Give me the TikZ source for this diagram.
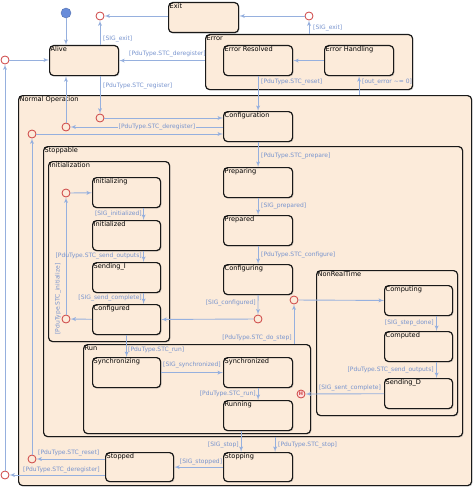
\documentclass[tikz,border=0pt]{standalone}
\usepackage{fontspec}
\setmainfont{DejaVu Sans}
\usetikzlibrary{shapes,arrows,shadows}
\definecolor{statefill}{RGB}{252,235,218}
\definecolor{wirecol}{RGB}{150,176,222}
\definecolor{guardcol}{RGB}{120,148,206}
\definecolor{juncol}{RGB}{204,64,64}
\definecolor{dotcol}{RGB}{104,140,218}
\tikzstyle{state} = [rectangle, draw=black!90, fill=statefill, rounded corners=4pt,
    line width=1.2pt, anchor=north west, inner sep=0pt,
    minimum width=69pt, minimum height=30pt,
    drop shadow={opacity=0.25, shadow xshift=1pt, shadow yshift=-1pt}]
\tikzstyle{statename} = [anchor=north west, inner sep=1.5pt, text=black,
    font=\fontsize{6.6}{7}\selectfont]
\tikzstyle{junction} = [circle, draw=juncol, line width=0.8pt, minimum size=8pt, inner sep=0pt]
\tikzstyle{initdot} = [circle, fill=dotcol, draw=dotcol!80!black, line width=0.4pt,
    minimum size=10pt, inner sep=0pt]
\tikzstyle{guard} = [text=guardcol, font=\fontsize{6}{6.5}\selectfont, inner sep=1pt]
\tikzstyle{line} = [draw=wirecol, line width=0.9pt, -latex']

\begin{document}
\begin{tikzpicture}[x=1pt, y=-1pt]
    \useasboundingbox (0,0) rectangle (474,487);
    % Place nodes
    \node [initdot] (start) at (66,13) {};
    \node [state, minimum width=70pt, label={[statename]north west:Exit}] (exit) at (168,2) {};
    \node [state, label={[statename]north west:Alive}] (alive) at (49,45) {};
    \node [state, minimum width=207pt, minimum height=55pt,
        label={[statename]north west:Error}] (error) at (205,34) {};
    \node [state, label={[statename]north west:Error Resolved}] (errres) at (223,45) {};
    \node [state, label={[statename]north west:Error Handling}] (errhand) at (324,45) {};
    \node [state, minimum width=453pt, minimum height=390pt,
        label={[statename]north west:Normal Operation}] (normal) at (18,95) {};
    \node [state, label={[statename]north west:Configuration}] (config) at (223,111) {};
    \node [state, minimum width=419pt, minimum height=290pt,
        label={[statename]north west:Stoppable}] (stoppable) at (43,146) {};
    \node [state, minimum width=121pt, minimum height=180pt,
        label={[statename]north west:Initialization}] (initialization) at (48,161) {};
    \node [state, minimum width=68pt, label={[statename]north west:Initializing}] (initing) at (92,177) {};
    \node [state, minimum width=68pt, label={[statename]north west:Initialized}] (inited) at (92,220) {};
    \node [state, minimum width=68pt, label={[statename]north west:Sending\_I}] (sendi) at (92,262) {};
    \node [state, minimum width=68pt, label={[statename]north west:Configured}] (configd) at (92,304) {};
    \node [state, label={[statename]north west:Preparing}] (prep) at (223,167) {};
    \node [state, label={[statename]north west:Prepared}] (prepd) at (223,215) {};
    \node [state, label={[statename]north west:Configuring}] (cfging) at (223,264) {};
    \node [state, minimum width=141pt, minimum height=145pt,
        label={[statename]north west:NonRealTime}] (nrt) at (316,270) {};
    \node [state, minimum width=68pt, label={[statename]north west:Computing}] (comp) at (384,285) {};
    \node [state, minimum width=68pt, label={[statename]north west:Computed}] (compd) at (384,331) {};
    \node [state, minimum width=68pt, label={[statename]north west:Sending\_D}] (sendd) at (384,378) {};
    \node [state, minimum width=227pt, minimum height=89pt,
        label={[statename]north west:Run}] (run) at (83,344) {};
    \node [state, minimum width=68pt, label={[statename]north west:Synchronizing}] (sync) at (92,357) {};
    \node [state, label={[statename]north west:Synchronized}] (synced) at (223,357) {};
    \node [state, label={[statename]north west:Running}] (running) at (223,400) {};
    \node [state, minimum height=29pt, label={[statename]north west:Stopping}] (stopping) at (223,452) {};
    \node [state, minimum width=68pt, minimum height=29pt,
        label={[statename]north west:Stopped}] (stopped) at (105,452) {};
    % Junctions
    \node [junction] (jexitl) at (100,16) {};
    \node [junction] (jexitr) at (309,16) {};
    \node [junction] (jleft) at (5,60) {};
    \node [junction] (jbot) at (5,475) {};
    \node [junction] (jreg) at (100,118) {};
    \node [junction] (jdereg) at (66,127) {};
    \node [junction] (jtop) at (32,134) {};
    \node [junction] (jstop) at (32,459) {};
    \node [junction] (jinit) at (66,193) {};
    \node [junction] (jcfgd) at (66,319) {};
    \node [junction] (jcfging) at (258,319) {};
    \node [junction] (jstep) at (294,300) {};
    \node [junction, fill=red!12, text=juncol, font=\bfseries\fontsize{5}{5}\selectfont] (hist) at (301,394) {H};
    % Draw edges
    \path [line] (start) -- (alive.north -| start);
    \path [line] (alive.north -| jexitl) -- (jexitl);
    \path [line] (exit.west |- jexitl) -- (jexitl);
    \path [line] (error.north -| jexitr) -- (jexitr);
    \path [line] (jexitr) -- (exit.east |- jexitr);
    \path [line] (jbot) -- (jleft);
    \path [line] (jleft) -- (alive.west |- jleft);
    \path [line] (error.west |- alive) -- (alive.east);
    \path [line] (errhand) -- (errres);
    \path [line] (errres) -- (config);
    \path [line] (normal.north -| errhand) -- (errhand);
    \path [line] (alive.south -| jreg) -- (jreg);
    \path [line] (jreg) -- (config.west |- jreg);
    \path [line] (config.west |- jdereg) -- (jdereg);
    \path [line] (jdereg) -- (alive.south -| jdereg);
    \path [line] (jstop) -- (jtop);
    \path [line] (jtop) -- (config.west |- jtop);
    \path [line] (config) -- (prep);
    \path [line] (prep) -- (prepd);
    \path [line] (prepd) -- (cfging);
    \path [line] (cfging) -- (jcfging);
    \path [line] (jcfging) -- (configd);
    \path [line] (run.north -| jstep) -- (jstep);
    \path [line] (jstep) -- (comp);
    \path [line] (jinit) -- (initing);
    \path [line] ([xshift=17pt]initing.south) -- ([xshift=17pt]inited.north);
    \path [line] ([xshift=17pt]inited.south) -- ([xshift=17pt]sendi.north);
    \path [line] ([xshift=17pt]sendi.south) -- ([xshift=17pt]configd.north);
    \path [line] (configd) -- (jcfgd);
    \path [line] (jcfgd) -- (jinit);
    \path [line] (configd) -- (sync);
    \path [line] (sync) -- (synced);
    \path [line] (synced) -- (running);
    \path [line] ([xshift=18pt]comp.south) -- ([xshift=18pt]compd.north);
    \path [line] ([xshift=18pt]compd.south) -- ([xshift=18pt]sendd.north);
    \path [line] (sendd) -- (hist);
    \path [line] ([xshift=-17pt]running.south) -- ([xshift=-17pt]stopping.north);
    \path [line] ([xshift=17pt]stopping.north |- stoppable.south) -- ([xshift=17pt]stopping.north);
    \path [line] (stopping) -- (stopped);
    \path [line] (stopped.west |- jstop) -- (jstop);
    \path [line] (stopped.west |- jbot) -- (jbot);
    % Guards
    \node [guard, anchor=west] (gexitl) at (102,39) {[SIG\_exit]};
    \node [guard, anchor=west] (gexitr) at (312,28) {[SIG\_exit]};
    \node [guard, anchor=west] (gderegtop) at (128,54) {[PduType.STC\_deregister]};
    \node [guard, anchor=west] (gresetup) at (260,82) {[PduType.STC\_reset]};
    \node [guard, anchor=west] (gouterr) at (361,82) {[out\_error \textasciitilde= 0]};
    \node [guard, anchor=west] (greg) at (102,86) {[PduType.STC\_register]};
    \node [guard, fill=statefill] (gderegmid) at (157,127) {[PduType.STC\_deregister]};
    \node [guard, anchor=west] (gprepare) at (260,156) {[PduType.STC\_prepare]};
    \node [guard, anchor=west] (gprepared) at (260,206) {[SIG\_prepared]};
    \node [guard, anchor=west] (gconfigure) at (260,255) {[PduType.STC\_configure]};
    \node [guard, anchor=east] (gconfigured) at (257,303) {[SIG\_configured]};
    \node [guard, anchor=east] (gdostep) at (293,338) {[PduType.STC\_do\_step]};
    \node [guard, anchor=east] (ginitialized) at (143,214) {[SIG\_initialized]};
    \node [guard, anchor=east] (gsendouti) at (143,256) {[PduType.STC\_send\_outputs]};
    \node [guard, anchor=east] (gsendcomp) at (143,298) {[SIG\_send\_complete]};
    \node [guard, rotate=90] (ginitialize) at (58,299) {[PduType.STC\_initialize]};
    \node [guard, anchor=west] (grunl) at (127,350) {[PduType.STC\_run]};
    \node [guard, anchor=west] (gsynced) at (162,365) {[SIG\_synchronized]};
    \node [guard, anchor=east] (grunr) at (257,394) {[PduType.STC\_run]};
    \node [guard, anchor=east] (gstepdone) at (435,323) {[SIG\_step\_done]};
    \node [guard, anchor=east] (gsendoutd) at (435,370) {[PduType.STC\_send\_outputs]};
    \node [guard] (gsentcomp) at (350,388) {[SIG\_sent\_complete]};
    \node [guard, anchor=east] (gstop) at (240,445) {[SIG\_stop]};
    \node [guard, anchor=west] (gstcstop) at (277,445) {[PduType.STC\_stop]};
    \node [guard] (gstopped) at (201,462) {[SIG\_stopped]};
    \node [guard, anchor=west] (gresetlow) at (37,453) {[PduType.STC\_reset]};
    \node [guard, anchor=west] (gdereglow) at (22,470) {[PduType.STC\_deregister]};
\end{tikzpicture}
\end{document}
